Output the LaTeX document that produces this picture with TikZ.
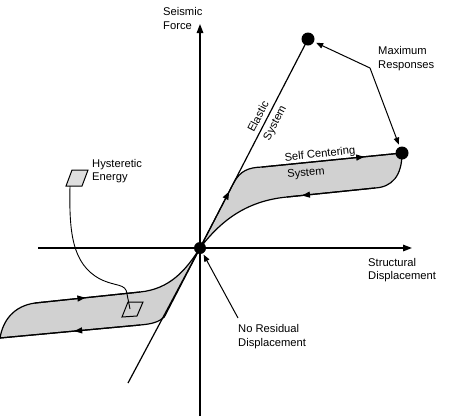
\documentclass[tikz,border=0pt]{standalone}
\usepackage{fontspec}
\setmainfont{Liberation Sans}
\usetikzlibrary{arrows.meta,decorations.markings}
\tikzset{
  tip/.style={-{Triangle[length=7pt,width=5.5pt]}},
  axis/.style={line width=1.5pt,-{Triangle[length=9pt,width=6.5pt]}},
  curve/.style={line width=1.2pt},
  dot/.style={circle,fill=black,inner sep=0pt,minimum size=13pt,outer sep=2.5pt},
  origdot/.style={circle,fill=black,inner sep=0pt,minimum size=12pt,outer sep=1.5pt},
  lbl/.style={font=\fontsize{11.2}{13.5}\selectfont,align=left,inner sep=0pt},
  loopfill/.style={fill=gray!36,draw=black,line width=1.2pt},
  midarrow/.style={postaction={decorate},decoration={markings,
     mark=at position #1 with {\arrow{Triangle[length=8pt,width=6pt]}}}},
}
\begin{document}
\begin{tikzpicture}[x=1pt,y=-1pt]
\useasboundingbox (0,0) rectangle (474,416);
% loops
\path[loopfill] (200,248) -- (233.6,183) .. controls (240,171) and (248,167.5) .. (262,167)
  -- (402,153) .. controls (402,176) and (392,187) .. (375,188)
  -- (287,197) .. controls (245,201) and (220,222) .. (200,248) -- cycle;
\path[loopfill] (200,248) .. controls (186,270) and (170,289) .. (140,292)
  -- (35,303) .. controls (14,306) and (3,320) .. (0,338)
  -- (140,325) .. controls (152,324) and (159,322) .. (164.3,317) -- cycle;
% axes
\coordinate (xs) at (38,248);
\coordinate (xe) at (412,248);
\coordinate (ys) at (200,416);
\coordinate (ye) at (200,24);
\draw[axis] (xs) -- (xe);
\draw[axis] (ys) -- (ye);
% dots
\node[origdot] (O) at (200,248) {};
\node[dot] (T) at (308,39) {};
\node[dot] (R) at (402,153) {};
% elastic line
\coordinate (E) at (128,383);
\draw[curve,midarrow=0.27] (O.center) -- (T.center);
\draw[curve] (O.center) -- (E);
% branch arrows
\coordinate (ua) at (262,167);
\coordinate (ub) at (375,188);
\coordinate (uc) at (287,197);
\draw[curve,midarrow=0.73] (ua) -- (R.center);
\draw[curve,midarrow=0.83] (ub) -- (uc);
\coordinate (la) at (35,303);
\coordinate (lb) at (140,292);
\coordinate (lc) at (140,325);
\coordinate (ld) at (0,338);
\draw[curve,midarrow=0.48] (la) -- (lb);
\draw[curve,midarrow=0.47] (lc) -- (ld);
% parallelograms
\draw[fill=gray!25,line width=1pt] (72,170) -- (88,170) -- (82,186) -- (66,186) -- cycle;
\draw[line width=1pt] (128,302) -- (143,302) -- (137,316) -- (122,317) -- cycle;
\coordinate (hs) at (70,186);
\coordinate (he) at (130,309);
\draw[line width=0.9pt] (hs) .. controls (69,232) and (72,264) .. (100,279)
  .. controls (116,287) and (126,283) .. (127,294) -- (he);
% maximum responses
\coordinate (V) at (370,68);
\draw[line width=1pt,tip] (V) -- (T);
\draw[line width=1pt,tip] (V) -- (R);
% no residual
\coordinate (N) at (238,318);
\draw[line width=1pt,tip] (N) -- (O);
% labels
\node[lbl,anchor=west] (sf) at (163,18.5) {Seismic\\Force};
\node[lbl,anchor=west] (mr) at (378,58.5) {Maximum\\Responses};
\node[lbl,anchor=west] (he2) at (92,171) {Hysteretic\\Energy};
\node[lbl,anchor=west] (sd) at (368,270) {Structural\\Displacement};
\node[lbl,anchor=west] (nr) at (238,336.5) {No Residual\\Displacement};
\node[lbl,rotate=62.7] (el) at (258,116.5) {Elastic};
\node[lbl,rotate=62.7] (es) at (275.5,123.5) {System};
\node[lbl,rotate=6] (sc) at (320,154.5) {Self Centering};
\node[lbl,rotate=5] (ss) at (306,173.5) {System};
\end{tikzpicture}
\end{document}
